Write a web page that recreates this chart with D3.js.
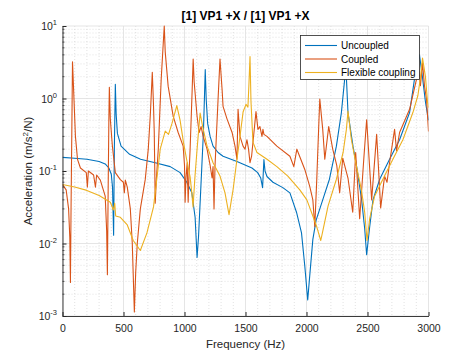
<!DOCTYPE html>
<html>
<head>
<meta charset="utf-8">
<script src="https://cdn.jsdelivr.net/npm/d3@7/dist/d3.min.js"></script>
<style>
  html, body { margin: 0; padding: 0; background: #fff; }
  svg { display: block; font-family: "Liberation Sans", Arial, Helvetica, sans-serif; }
</style>
</head>
<body>
<svg id="chart" width="474" height="355"></svg>
<script>
// ---------- data ----------
const titleText = "[1] VP1 +X / [1] VP1 +X";
const xLabelText = "Frequency (Hz)";
const seriesNames = ["Uncoupled", "Coupled", "Flexible coupling"];
const seriesColors = ["#0072BD", "#D95319", "#EDB120"];
const xTicks = [0, 500, 1000, 1500, 2000, 2500, 3000];
const yDecades = [-3, -2, -1, 0, 1];

// [frequency Hz, acceleration m/s^2/N]
const uncoupled = [
  [0,0.154],[100,0.15],[200,0.145],[300,0.135],[350,0.125],[380,0.11],[400,0.09],[410,0.06],[419,0.013],
  [425,0.2],[433,1.57],[440,0.6],[450,0.33],[480,0.22],[550,0.17],[640,0.145],[760,0.13],[883,0.115],
  [964,0.095],[1019,0.07],[1060,0.05],[1087,0.023],[1103,0.0064],[1115,0.0125],[1142,0.115],[1155,0.34],
  [1163,0.97],[1170,2.5],[1178,0.97],[1190,0.45],[1210,0.3],[1234,0.22],[1275,0.18],[1316,0.16],[1430,0.135],
  [1553,0.11],[1600,0.095],[1625,0.08],[1640,0.059],[1651,0.144],[1660,0.1],[1676,0.084],[1725,0.07],
  [1806,0.059],[1864,0.05],[1918,0.027],[1959,0.014],[1986,0.0049],[2010,0.00166],[2024,0.0032],
  [2052,0.0114],[2079,0.021],[2133,0.04],[2188,0.077],[2245,0.22],[2286,0.64],[2313,1.85],[2322,3.0],
  [2340,0.64],[2381,0.22],[2411,0.115],[2452,0.04],[2477,0.016],[2493,0.007],[2518,0.017],[2545,0.04],
  [2600,0.077],[2681,0.145],[2763,0.27],[2845,0.64],[2885,1.85],[2926,4.0],[2950,2.0],[2975,0.9],[3000,0.5]
];
const coupled = [
  [0,0.065],[30,0.055],[50,0.03],[60,0.012],[65,0.0029],[70,0.03],[76,0.3],[82,3.2],[90,1.48],[106,0.3],
  [123,0.145],[147,0.11],[195,0.095],[204,0.06],[212,0.1],[255,0.088],[270,0.06],[280,0.088],[310,0.075],
  [350,0.045],[362,0.015],[368,0.0037],[374,0.05],[380,0.5],[384,1.43],[392,0.52],[409,0.22],[433,0.095],
  [474,0.076],[499,0.07],[507,0.05],[515,0.075],[531,0.06],[556,0.03],[572,0.01],[589,0.00114],[600,0.004],
  [613,0.01],[638,0.03],[678,0.076],[703,0.2],[720,0.6],[736,2.3],[745,0.9],[752,0.35],[760,0.036],[770,0.08],
  [785,0.2],[809,1.85],[834,10],[842,4.4],[866,1.48],[907,0.57],[948,0.34],[989,0.22],[1000,0.12],[1005,0.037],
  [1012,0.08],[1022,0.13],[1030,0.037],[1038,0.1],[1046,0.2],[1063,1.34],[1071,3.5],[1079,1.7],[1103,0.57],
  [1120,0.34],[1136,0.41],[1153,0.3],[1185,0.2],[1210,0.12],[1226,0.08],[1234,0.115],[1242,0.03],[1250,0.115],
  [1275,0.97],[1291,3.5],[1308,1.34],[1316,0.78],[1349,0.52],[1390,0.34],[1414,0.22],[1430,0.145],[1439,0.71],
  [1455,0.3],[1480,0.22],[1496,0.2],[1512,0.27],[1525,0.2],[1537,0.13],[1550,0.16],[1586,0.66],[1602,0.375],
  [1618,0.41],[1635,0.3],[1643,0.375],[1651,0.32],[1676,0.3],[1757,0.22],[1864,0.16],[1896,0.115],[1921,0.2],
  [1986,0.105],[2027,0.061],[2052,0.04],[2068,0.017],[2084,0.076],[2100,0.4],[2109,0.98],[2133,0.375],
  [2150,0.145],[2182,0.41],[2215,0.2],[2248,0.12],[2272,0.05],[2297,0.15],[2340,0.08],[2379,0.027],[2403,0.18],
  [2436,0.022],[2470,0.15],[2493,0.51],[2534,0.04],[2575,0.32],[2608,0.031],[2640,0.085],[2660,0.07],
  [2681,0.13],[2722,0.375],[2738,0.19],[2763,0.34],[2845,0.71],[2902,1.85],[2918,2.8],[2934,1.5],[2951,3.1],
  [2967,1.5],[2984,0.97],[3000,0.35]
];
const flexible = [
  [0,0.065],[100,0.06],[200,0.054],[300,0.046],[392,0.037],[417,0.029],[428,0.036],[436,0.024],[474,0.023],
  [531,0.018],[580,0.011],[638,0.008],[692,0.014],[746,0.032],[774,0.08],[801,0.2],[842,0.355],[869,0.32],
  [897,0.45],[937,0.8],[964,0.5],[991,0.25],[1019,0.14],[1046,0.083],[1060,0.05],[1070,0.032],[1085,0.08],
  [1103,0.2],[1128,0.63],[1150,0.4],[1185,0.22],[1234,0.13],[1291,0.085],[1332,0.05],[1365,0.025],
  [1398,0.055],[1430,0.145],[1455,0.3],[1480,0.65],[1504,0.83],[1520,0.76],[1529,1.7],[1537,3.8],[1545,0.9],
  [1561,0.25],[1594,0.18],[1676,0.145],[1757,0.115],[1847,0.085],[1945,0.055],[2003,0.04],[2052,0.024],
  [2084,0.017],[2117,0.011],[2136,0.0155],[2177,0.033],[2245,0.077],[2300,0.18],[2327,0.375],[2340,0.67],
  [2368,0.27],[2409,0.117],[2450,0.055],[2477,0.027],[2496,0.011],[2518,0.022],[2558,0.045],[2626,0.077],
  [2708,0.145],[2790,0.27],[2872,0.64],[2913,1.1],[2935,2.0],[2951,3.6],[2975,2.0],[2992,0.9],[3000,0.75]
];
const allSeries = [uncoupled, coupled, flexible];

// ---------- layout ----------
const svg = d3.select("#chart");
const L = 62.5, R = 428.5, T = 26, B = 316;
const axisColor = "#262626";
const x = d3.scaleLinear().domain([0, 3000]).range([L, R]);
const y = d3.scaleLog().domain([1e-3, 10]).range([B, T]);

// minor grid
const gMinor = svg.append("g");
d3.range(100, 3000, 100).filter(v => v % 500 !== 0).forEach(v => {
  gMinor.append("line").attr("x1", x(v)).attr("x2", x(v)).attr("y1", T).attr("y2", B)
    .attr("stroke", "#cfcfcf").attr("stroke-width", 0.6).attr("stroke-dasharray", "1,2");
});
yDecades.slice(0, -1).forEach(e => {
  for (let k = 2; k <= 9; k++) {
    const v = k * Math.pow(10, e);
    gMinor.append("line").attr("x1", L).attr("x2", R).attr("y1", y(v)).attr("y2", y(v))
      .attr("stroke", "#cfcfcf").attr("stroke-width", 0.6).attr("stroke-dasharray", "1,2");
  }
});
// major grid
const gMajor = svg.append("g");
xTicks.forEach(v => {
  gMajor.append("line").attr("x1", x(v)).attr("x2", x(v)).attr("y1", T).attr("y2", B)
    .attr("stroke", "#dedede").attr("stroke-width", 0.8);
});
yDecades.forEach(e => {
  const v = Math.pow(10, e);
  gMajor.append("line").attr("x1", L).attr("x2", R).attr("y1", y(v)).attr("y2", y(v))
    .attr("stroke", "#dedede").attr("stroke-width", 0.8);
});

// clip
svg.append("clipPath").attr("id", "plotclip").append("rect")
  .attr("x", L).attr("y", T - 1).attr("width", R - L).attr("height", B - T + 1);

const line = d3.line().x(d => x(d[0])).y(d => y(d[1]));
const gLines = svg.append("g").attr("clip-path", "url(#plotclip)");
allSeries.forEach((s, i) => {
  gLines.append("path").datum(s).attr("d", line).attr("fill", "none")
    .attr("stroke", seriesColors[i]).attr("stroke-width", 1.1).attr("stroke-linejoin", "round");
});

// x axis
const xAxis = d3.axisBottom(x).tickValues(xTicks).tickSizeInner(-4).tickSizeOuter(0).tickPadding(9)
  .tickFormat(d3.format("d"));
const gx = svg.append("g").attr("transform", `translate(0,${B})`).call(xAxis);
gx.select(".domain").attr("stroke", axisColor).attr("stroke-width", 0.9);
gx.selectAll(".tick line").attr("stroke", axisColor);
gx.selectAll(".tick text").attr("fill", axisColor).attr("font-size", "10.5px")
  .attr("font-family", "Liberation Sans, Arial, sans-serif");

// y axis
const yAxis = d3.axisLeft(y).tickValues(yDecades.map(e => Math.pow(10, e))).tickSizeInner(-4).tickSizeOuter(0)
  .tickFormat("");
const gy = svg.append("g").attr("transform", `translate(${L},0)`).call(yAxis);
gy.select(".domain").attr("stroke", axisColor).attr("stroke-width", 0.9);
gy.selectAll(".tick line").attr("stroke", axisColor);
// minor ticks on y
yDecades.slice(0, -1).forEach(e => {
  for (let k = 2; k <= 9; k++) {
    const v = k * Math.pow(10, e);
    svg.append("line").attr("x1", L).attr("x2", L + 2).attr("y1", y(v)).attr("y2", y(v))
      .attr("stroke", axisColor).attr("stroke-width", 0.7);
  }
});
// y tick labels with superscripts
yDecades.forEach(e => {
  const t = svg.append("text").attr("x", 57).attr("y", y(Math.pow(10, e)) + 4)
    .attr("text-anchor", "end").attr("fill", axisColor).attr("font-size", "10.5px");
  t.append("tspan").text("10");
  t.append("tspan").attr("dy", -5).attr("font-size", "7.5px").text(String(e).replace("-", "-"));
});

// title
svg.append("text").attr("x", (L + R) / 2).attr("y", 20).attr("text-anchor", "middle")
  .attr("font-weight", "bold").attr("font-size", "12px").attr("fill", "#000").text(titleText);

// x label
svg.append("text").attr("x", (L + R) / 2).attr("y", 348).attr("text-anchor", "middle")
  .attr("font-size", "11.5px").attr("fill", axisColor).text(xLabelText);

// y label
const yl = svg.append("text").attr("transform", `translate(32,${(T + B) / 2}) rotate(-90)`)
  .attr("text-anchor", "middle").attr("font-size", "11.5px").attr("fill", axisColor);
yl.append("tspan").text("Acceleration (m/s");
yl.append("tspan").attr("dy", -4).attr("font-size", "8px").text("2");
yl.append("tspan").attr("dy", 4).text("/N)");

// legend
const lg = svg.append("g");
lg.append("rect").attr("x", 300.5).attr("y", 35.5).attr("width", 119).attr("height", 44)
  .attr("fill", "#fff").attr("stroke", axisColor).attr("stroke-width", 0.8);
seriesNames.forEach((n, i) => {
  const yy = 45.5 + i * 13.5;
  lg.append("line").attr("x1", 305).attr("x2", 337).attr("y1", yy).attr("y2", yy)
    .attr("stroke", seriesColors[i]).attr("stroke-width", 1.1);
  lg.append("text").attr("x", 341).attr("y", yy + 3.6).attr("font-size", "10px")
    .attr("fill", "#000").text(n);
});
</script>
</body>
</html>
